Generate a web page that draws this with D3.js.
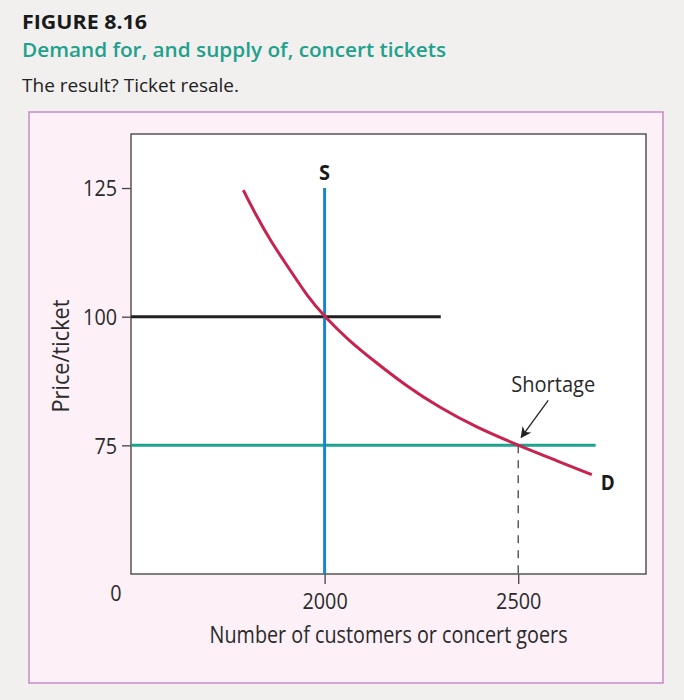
<!DOCTYPE html>
<html>
<head>
<meta charset="utf-8">
<script src="https://cdn.jsdelivr.net/npm/d3@7"></script>
<style>
  body { margin: 0; background: #f1f0ef; }
  .head { font-family: 'Open Sans', sans-serif; }
  .cond { font-family: 'Open Sans', sans-serif; }
</style>
</head>
<body>
<div id="graf"></div>
<script>
// datos
const demandQty = [1790, 1823, 1862, 1909, 1956, 2000, 2062, 2131, 2208, 2295, 2389, 2500, 2600, 2690]
const demandPrice = [124.6, 119.7, 114.5, 109.3, 103.9, 100, 95.4, 91.2, 86.7, 82.4, 78.6, 75, 72.0, 69.3]
const supplyQty = 2000
const supplyTop = 125
const highPrice = 100, highEnd = 2300
const lowPrice = 75, lowEnd = 2700
const shortageQty = 2500
const yTicks = [75, 100, 125]
const xTicks = [2000, 2500]

const anchoTotal = 684
const altoTotal = 700

const svg = d3.select('#graf')
  .append('svg')
  .attr('width', anchoTotal)
  .attr('height', altoTotal)

// comprime el texto al ancho del original (fuente condensada)
function apretar(sel, ancho) {
  sel.attr('textLength', ancho).attr('lengthAdjust', 'spacingAndGlyphs')
}

// titulos
svg.append('text').attr('class', 'head')
  .attr('x', 22).attr('y', 29)
  .attr('font-size', 20).attr('font-weight', 700).attr('fill', '#1a1a1a')
  .text('FIGURE 8.16')
  .call(apretar, 125)
svg.append('text').attr('class', 'head')
  .attr('x', 22).attr('y', 57)
  .attr('font-size', 20).attr('font-weight', 600).attr('fill', '#21a08c')
  .text('Demand for, and supply of, concert tickets')
  .call(apretar, 424)
svg.append('text').attr('class', 'head')
  .attr('x', 22).attr('y', 92)
  .attr('font-size', 18).attr('fill', '#222')
  .text('The result? Ticket resale.')
  .call(apretar, 217)

// caja rosa
svg.append('rect')
  .attr('x', 29).attr('y', 112)
  .attr('width', 634).attr('height', 571)
  .attr('fill', '#fdf0f7')
  .attr('stroke', '#c68ac5')
  .attr('stroke-width', 1.5)

const margin = { top: 134, left: 131, right: 38, bottom: 126 }
const ancho = anchoTotal - margin.left - margin.right
const alto = altoTotal - margin.top - margin.bottom

const x = d3.scaleLinear().domain([1500, 2830]).range([0, ancho])
const y = d3.scaleLinear().domain([50, 135.5]).range([alto, 0])

const g = svg.append('g')
  .attr('transform', `translate(${margin.left}, ${margin.top})`)

g.append('rect')
  .attr('x', 0).attr('y', 0)
  .attr('width', ancho).attr('height', alto)
  .attr('fill', '#ffffff')

// ejes
const ejeY = g.append('g')
  .call(d3.axisLeft(y).tickValues(yTicks).tickSize(9).tickPadding(5))
const ejeX = g.append('g')
  .attr('transform', `translate(0, ${alto})`)
  .call(d3.axisBottom(x).tickValues(xTicks).tickFormat(d3.format('d')).tickSize(10).tickPadding(9))

;[ejeY, ejeX].forEach((e) => {
  e.select('.domain').remove()
  e.selectAll('line').attr('stroke', '#444').attr('stroke-width', 1.3)
  e.selectAll('text')
    .attr('class', 'cond')
    .attr('font-size', 22)
    .attr('fill', '#2a2a2a')
    .each(function () {
      const t = d3.select(this)
      apretar(t, t.text().length * 11.3)
    })
})
ejeY.selectAll('text').attr('dy', '0.35em')

// marco
g.append('rect')
  .attr('x', 0).attr('y', 0)
  .attr('width', ancho).attr('height', alto)
  .attr('fill', 'none')
  .attr('stroke', '#555')
  .attr('stroke-width', 1.5)

g.append('text').attr('class', 'cond')
  .attr('x', -15).attr('y', alto + 27)
  .attr('text-anchor', 'middle')
  .attr('font-size', 22).attr('fill', '#2a2a2a')
  .text('0')
  .call(apretar, 11.3)

// titulos de ejes
g.append('text').attr('class', 'cond')
  .attr('x', x(2000) + 64).attr('y', alto + 69)
  .attr('text-anchor', 'middle')
  .attr('font-size', 23).attr('fill', '#2a2a2a')
  .text('Number of customers or concert goers')
  .call(apretar, 358)
g.append('text').attr('class', 'cond')
  .attr('transform', `translate(${-62}, ${alto / 2 + 2}) rotate(-90)`)
  .attr('text-anchor', 'middle')
  .attr('font-size', 23).attr('fill', '#2a2a2a')
  .text('Price/ticket')
  .call(apretar, 113)

// lineas horizontales
g.append('line')
  .attr('x1', x(1500)).attr('x2', x(highEnd))
  .attr('y1', y(highPrice)).attr('y2', y(highPrice))
  .attr('stroke', '#231f20').attr('stroke-width', 3)
g.append('line')
  .attr('x1', x(1500)).attr('x2', x(lowEnd))
  .attr('y1', y(lowPrice)).attr('y2', y(lowPrice))
  .attr('stroke', '#1ca48f').attr('stroke-width', 3)

// linea discontinua
g.append('line')
  .attr('x1', x(shortageQty)).attr('x2', x(shortageQty))
  .attr('y1', y(lowPrice)).attr('y2', alto)
  .attr('stroke', '#444').attr('stroke-width', 1.3)
  .attr('stroke-dasharray', '8,7')

// oferta
g.append('line')
  .attr('x1', x(supplyQty)).attr('x2', x(supplyQty))
  .attr('y1', y(supplyTop)).attr('y2', alto)
  .attr('stroke', '#1b86c5').attr('stroke-width', 3)
g.append('text').attr('class', 'cond')
  .attr('x', x(supplyQty)).attr('y', y(supplyTop) - 8)
  .attr('text-anchor', 'middle')
  .attr('font-size', 22).attr('font-weight', 700).attr('fill', '#1a1a1a')
  .text('S')
  .call(apretar, 11)

// demanda
const demanda = demandQty.map((q, i) => [q, demandPrice[i]])
g.append('path')
  .datum(demanda)
  .attr('d', d3.line().x((d) => x(d[0])).y((d) => y(d[1])).curve(d3.curveBasis))
  .attr('fill', 'none')
  .attr('stroke', '#c8234f')
  .attr('stroke-width', 3)
const ult = demanda[demanda.length - 1]
g.append('text').attr('class', 'cond')
  .attr('x', x(ult[0]) + 9).attr('y', y(ult[1]) + 15)
  .attr('font-size', 22).attr('font-weight', 700).attr('fill', '#1a1a1a')
  .text('D')
  .call(apretar, 14)

// flecha escasez
svg.append('defs').append('marker')
  .attr('id', 'punta')
  .attr('viewBox', '0 0 10 10')
  .attr('refX', 9).attr('refY', 5)
  .attr('markerWidth', 11).attr('markerHeight', 11)
  .attr('markerUnits', 'userSpaceOnUse')
  .attr('orient', 'auto')
  .append('path')
  .attr('d', 'M0,0 L10,5 L0,10 L3,5 Z')
  .attr('fill', '#222')
g.append('line')
  .attr('x1', x(shortageQty) + 30).attr('y1', y(lowPrice) - 45)
  .attr('x2', x(shortageQty) + 3).attr('y2', y(lowPrice) - 8)
  .attr('stroke', '#222').attr('stroke-width', 1.3)
  .attr('marker-end', 'url(#punta)')
g.append('text').attr('class', 'cond')
  .attr('x', x(shortageQty) + 35).attr('y', y(lowPrice) - 53)
  .attr('text-anchor', 'middle')
  .attr('font-size', 22).attr('fill', '#2a2a2a')
  .text('Shortage')
  .call(apretar, 84)
</script>
</body>
</html>
